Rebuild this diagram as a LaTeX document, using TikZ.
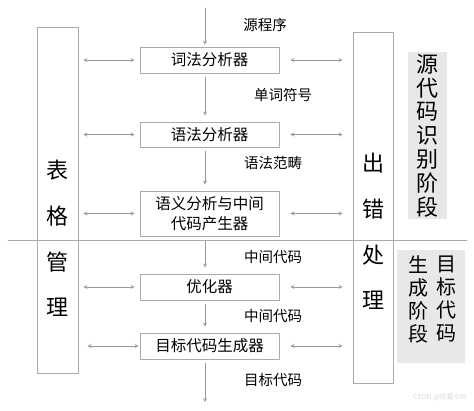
\documentclass[tikz,border=0pt]{standalone}
\usepackage{fontspec}
\setmainfont{Noto Sans CJK SC}
\usetikzlibrary{positioning}
\definecolor{linegray}{HTML}{999999}
\definecolor{boxgray}{HTML}{AAAAAA}
\definecolor{stagefill}{HTML}{E8E8E8}
\tikzset{
  stage/.style={draw=boxgray, line width=0.8pt, minimum width=139pt, inner sep=0pt, align=center, font=\fontsize{15.5}{20}\selectfont},
  side/.style={draw=boxgray, line width=0.8pt, inner sep=0pt},
  flow/.style={->, draw=linegray, line width=0.8pt},
  link/.style={<->, draw=linegray, line width=0.8pt},
  lbl/.style={font=\fontsize{14.5}{17}\selectfont},
  big/.style={align=center, font=\fontsize{22}{45.7}\selectfont},
  phase/.style={fill=stagefill, inner sep=0pt},
}
\begin{document}
\begin{tikzpicture}[x=1pt, y=-1pt, line join=round, line cap=round, >=stealth]
\useasboundingbox (0,0) rectangle (474,411);
% side boxes
\node[side, minimum width=41pt, minimum height=346pt] (tab) at (57.5,200) {};
\node[side, minimum width=40pt, minimum height=351pt] (err) at (373,207.5) {};
\node[big] (tabtxt) at (57.5,238.5) {表\\格\\管\\理};
\node[big] (errtxt) at (373,231.5) {出\\错\\处\\理};
% stages
\node[stage, minimum height=26pt] (lex) at (209.5,60) {词法分析器};
\node[stage, minimum height=25pt] (syn) at (209.5,134.5) {语法分析器};
\node[stage, minimum height=45pt] (sem) at (209.5,213.5) {语义分析与中间\\代码产生器};
\node[stage, minimum height=26pt] (opt) at (209.5,287) {优化器};
\node[stage, minimum height=26pt] (gen) at (209.5,346) {目标代码生成器};
% main flow
\coordinate (src) at (205,8);
\coordinate (out) at (205,402);
\draw[flow, shorten >=2pt] (src) -- (src |- lex.north);
\draw[flow, shorten <=4pt, shorten >=6pt] (src |- lex.south) -- (src |- syn.north);
\draw[flow, shorten <=4pt, shorten >=6pt] (src |- syn.south) -- (src |- sem.north);
\draw[flow, shorten <=4pt, shorten >=6pt] (src |- sem.south) -- (src |- opt.north);
\draw[flow, shorten <=4pt, shorten >=6pt] (src |- opt.south) -- (src |- gen.north);
\draw[flow, shorten <=4pt] (src |- gen.south) -- (out);
\node[lbl] (l1) at (265,25) {源程序};
\node[lbl] (l2) at (283,95) {单词符号};
\node[lbl] (l3) at (273,163) {语法范畴};
\node[lbl] (l4) at (273,257) {中间代码};
\node[lbl] (l5) at (273,316) {中间代码};
\node[lbl] (l6) at (273,380) {目标代码};
% table and error links
\foreach \s in {lex,syn,sem,opt}{
  \draw[link, shorten <=5pt, shorten >=5pt] (tab.east |- \s.west) -- (\s.west);
  \draw[link, shorten <=11pt, shorten >=10pt] (\s.east) -- (err.west |- \s.east);
}
\draw[link, shorten <=9pt, shorten >=1pt] (tab.east |- gen.west) -- (gen.west);
\draw[link, shorten <=11pt, shorten >=10pt] (gen.east) -- (err.west |- gen.east);
% divider
\draw[boxgray, line width=0.8pt] (8,240) -- (467,240);
% phases
\node[phase, minimum width=39pt, minimum height=167pt] (front) at (427.5,135.5) {};
\node[align=center, font=\fontsize{22}{23.8}\selectfont] (fronttxt) at (427.5,135.5) {源\\代\\码\\识\\别\\阶\\段};
\node[phase, minimum width=68pt, minimum height=113pt] (back) at (431,306.5) {};
\node[align=center, font=\fontsize{20}{23}\selectfont] (backR) at (446,299) {目\\标\\代\\码};
\node[align=center, font=\fontsize{20}{23}\selectfont] (backL) at (418,299) {生\\成\\阶\\段};
\node[text=black!15, font=\fontsize{7}{8}\selectfont] (mark) at (440,397) {CSDN @优葛 699};
\end{tikzpicture}
\end{document}
